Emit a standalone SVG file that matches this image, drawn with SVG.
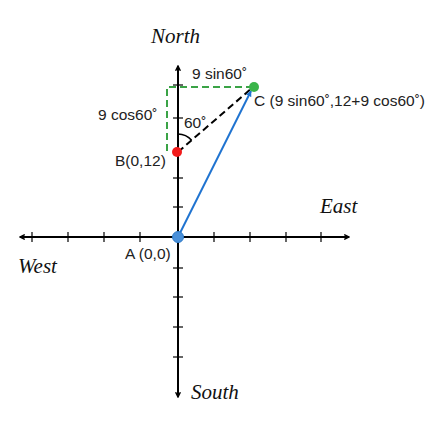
<svg xmlns="http://www.w3.org/2000/svg" width="432" height="431" viewBox="0 0 432 431">
<defs>
<style>
.ax{stroke:#000;stroke-width:2;fill:none}
.tk{stroke:#000;stroke-width:1.2}
.lbl{font-family:"Liberation Sans",Arial,sans-serif;font-size:15.5px;fill:#222}
.dir{font-family:"Liberation Serif","Times New Roman",serif;font-style:italic;font-size:21px;fill:#111}
.gd{stroke:#3aa346;stroke-width:2;stroke-dasharray:7,4;fill:none}
</style>
<marker id="ah" viewBox="0 0 10 10" refX="9" refY="5" markerWidth="6" markerHeight="6" orient="auto-start-reverse" markerUnits="userSpaceOnUse">
<path d="M1,1 L9,5 L1,9" fill="none" stroke="#000" stroke-width="2.4"/>
</marker>
<marker id="bh" viewBox="0 0 10 10" refX="9" refY="5" markerWidth="6" markerHeight="6" orient="auto" markerUnits="userSpaceOnUse">
<path d="M0,0 L10,5 L0,10 z" fill="#1f73d0"/>
</marker>
</defs>
<rect width="432" height="431" fill="#fff"/>
<g id="axes">
<line class="ax" x1="20" y1="237" x2="349" y2="237" marker-start="url(#ah)" marker-end="url(#ah)"/>
<line class="ax" x1="178" y1="66" x2="178" y2="397" marker-start="url(#ah)" marker-end="url(#ah)"/>
<g class="tk">
<line x1="32" y1="232" x2="32" y2="242"/><line x1="68" y1="232" x2="68" y2="242"/><line x1="104" y1="232" x2="104" y2="242"/><line x1="140" y1="232" x2="140" y2="242"/>
<line x1="214" y1="232" x2="214" y2="242"/><line x1="250" y1="232" x2="250" y2="242"/><line x1="286" y1="232" x2="286" y2="242"/><line x1="321" y1="232" x2="321" y2="242"/>
<line x1="173" y1="85" x2="183" y2="85"/><line x1="173" y1="118" x2="183" y2="118"/><line x1="173" y1="178" x2="183" y2="178"/><line x1="173" y1="207" x2="183" y2="207"/>
<line x1="173" y1="268" x2="183" y2="268"/><line x1="173" y1="297" x2="183" y2="297"/><line x1="173" y1="327" x2="183" y2="327"/><line x1="173" y1="357" x2="183" y2="357"/>
</g>
<text class="dir" x="151" y="43">North</text>
<text class="dir" x="191" y="399">South</text>
<text class="dir" x="320" y="213">East</text>
<text class="dir" x="18" y="273">West</text>
</g>
<g id="connectors">
<path class="gd" d="M167,151 V87 H252"/>
<line x1="178" y1="152" x2="252" y2="88" stroke="#000" stroke-width="2" stroke-dasharray="7,4"/>
<line x1="178" y1="237" x2="251" y2="91" stroke="#1f73d0" stroke-width="2" marker-end="url(#bh)"/>
<path d="M178,134 A18,18 0 0 1 191.6,140.3" fill="none" stroke="#000" stroke-width="1.6"/>
</g>
<g id="labels">
<text class="lbl" x="192" y="79">9 sin60˚</text>
<text class="lbl" x="98" y="120">9 cos60˚</text>
<text class="lbl" x="184" y="128">60˚</text>
</g>
<g id="nodeA">
<circle cx="178" cy="237" r="5.5" fill="#4a90d9" stroke="#2f7bc8" stroke-width="1"/>
<text class="lbl" x="125" y="259">A (0,0)</text>
</g>
<g id="nodeB">
<circle cx="177" cy="152" r="5" fill="#f21b1b"/>
<text class="lbl" x="115" y="166">B(0,12)</text>
</g>
<g id="nodeC">
<circle cx="254" cy="87" r="5" fill="#3ab54a"/>
<text class="lbl" x="254" y="106">C (9 sin60˚,12+9 cos60˚)</text>
</g>
</svg>
